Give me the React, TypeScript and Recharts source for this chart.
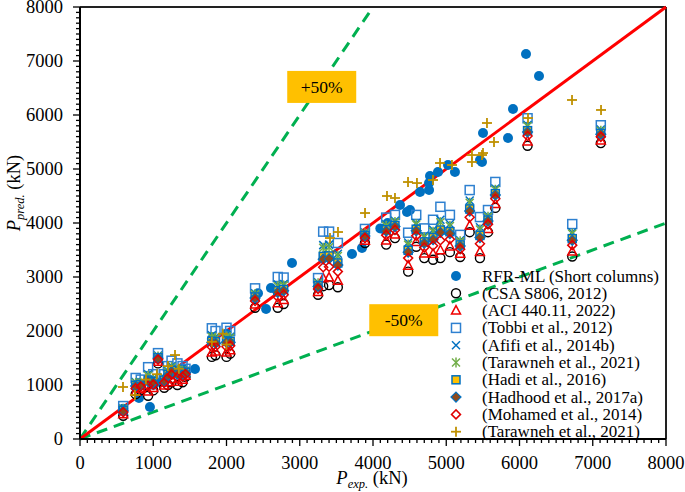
import { ScatterChart, Scatter, XAxis, YAxis, ReferenceLine, ReferenceDot } from "recharts";

const FONT = "Liberation Serif, DejaVu Serif, serif";

const majorTicks = [0, 1000, 2000, 3000, 4000, 5000, 6000, 7000, 8000];
const minorTicks = Array.from({ length: 81 }, (_, i) => i * 100);

// experimental loads of the specimens shown as stacks (kN)
const expLoads = [590, 760, 830, 930, 1000, 1065, 1150, 1200, 1250, 1330, 1400, 1440, 1800, 1850, 2000, 2050, 2390, 2700, 2780, 3250, 3320, 3400, 3520, 3890, 4180, 4300, 4480, 4590, 4700, 4820, 4920, 5050, 5190, 5320, 5460, 5570, 5670, 6110, 6720, 7110];
const csaPred = [430, 830, 900, 800, 900, 1400, 950, 1000, 1050, 1000, 1050, 1150, 1520, 1550, 1520, 1580, 2430, 2430, 2500, 2670, 2830, 2850, 2810, 3630, 3600, 3720, 3100, 3560, 3350, 3320, 3350, 3460, 3370, 3830, 3350, 3830, 4280, 5430, 3380, 5480];
const aciPred = [460, 875, 930, 880, 945, 1430, 990, 1050, 1110, 1060, 1095, 1170, 1600, 1620, 1600, 1645, 2490, 2515, 2575, 2720, 2975, 2990, 2930, 3670, 3675, 3785, 3210, 3650, 3435, 3430, 3495, 3565, 3430, 3950, 3465, 3890, 4350, 5510, 3470, 5530];
const tobbiPred = [610, 1130, 1100, 1330, 1200, 1590, 1200, 1350, 1450, 1400, 1350, 1300, 2050, 2000, 2060, 2000, 2790, 3000, 2990, 2980, 3840, 3840, 3630, 3890, 4100, 4150, 3820, 4150, 3900, 4060, 4300, 4150, 3780, 4610, 4110, 4240, 4760, 5940, 3980, 5810];
const afifiPred = [565, 1055, 1050, 1200, 1125, 1545, 1140, 1265, 1350, 1300, 1275, 1265, 1920, 1890, 1925, 1895, 2700, 2860, 2870, 2900, 3590, 3600, 3430, 3825, 3975, 4040, 3640, 4000, 3765, 3875, 4060, 3980, 3680, 4415, 3920, 4140, 4640, 5815, 3830, 5730];
const tarawnehAPred = [555, 1040, 1040, 1170, 1110, 1530, 1125, 1245, 1330, 1280, 1260, 1255, 1890, 1865, 1900, 1875, 2680, 2830, 2845, 2885, 3540, 3550, 3390, 3810, 3950, 4020, 3600, 3975, 3735, 3840, 4015, 3945, 3660, 4375, 3880, 4115, 4615, 5790, 3800, 5710];
const hadiPred = [530, 995, 1010, 1090, 1065, 1505, 1090, 1195, 1270, 1220, 1215, 1235, 1810, 1800, 1815, 1810, 2630, 2745, 2770, 2840, 3380, 3390, 3260, 3770, 3875, 3955, 3495, 3885, 3650, 3730, 3870, 3840, 3595, 4260, 3770, 4055, 4545, 5710, 3710, 5660];
const hadhoodPred = [520, 980, 1000, 1065, 1050, 1495, 1075, 1175, 1250, 1200, 1200, 1225, 1785, 1775, 1790, 1790, 2610, 2715, 2745, 2825, 3330, 3340, 3220, 3760, 3850, 3935, 3460, 3855, 3625, 3690, 3825, 3805, 3575, 4220, 3730, 4035, 4520, 5685, 3680, 5645];
const mohamedPred = [495, 935, 970, 985, 1005, 1470, 1040, 1125, 1190, 1140, 1155, 1200, 1705, 1710, 1710, 1725, 2555, 2630, 2670, 2780, 3180, 3190, 3100, 3720, 3775, 3870, 3350, 3765, 3545, 3580, 3680, 3700, 3515, 4105, 3615, 3975, 4450, 5610, 3590, 5595];

// RFR-ML predictions
const rfrExp = [590, 805, 955, 1000, 1100, 1250, 1400, 1570, 1800, 2000, 2430, 2540, 2607, 2894, 3350, 3713, 3850, 4100, 4200, 4369, 4464, 4505, 4642, 4765, 4765, 4778, 4887, 5024, 5119, 5461, 5488, 5502, 5843, 5911, 6089, 6266];
const rfrPred = [560, 760, 593, 1000, 1050, 1200, 1300, 1296, 1850, 1950, 2700, 2407, 2796, 3259, 3400, 3426, 3537, 3900, 4000, 4333, 4204, 4240, 4574, 4611, 4740, 4870, 4944, 5074, 4944, 5167, 5130, 5667, 5574, 6111, 7130, 6722];

// second Tarawneh et al. (2021) model
const tarBExp = [587, 750, 900, 1050, 1200, 1297, 1350, 1800, 1950, 2000, 3413, 3522, 3891, 4191, 4300, 4478, 4600, 4819, 4915, 5078, 5351, 5488, 5351, 5502, 5556, 5652, 6116, 6717, 7113];
const tarBPred = [963, 815, 1100, 1200, 1350, 1555, 1300, 1800, 1950, 1750, 3722, 3833, 4185, 4500, 4463, 4759, 4740, 4796, 5111, 5074, 5259, 5259, 5130, 5296, 5852, 5500, 5944, 6278, 6093];

const zip = (xs: number[], ys: number[]) => xs.map((x, i) => ({ x, y: ys[i] }));

const series = [
  { name: "RFR-ML (Short columns)", kind: "dot", data: zip(rfrExp, rfrPred) },
  { name: "(CSA S806, 2012)", kind: "circle", data: zip(expLoads, csaPred) },
  { name: "(ACI 440.11, 2022)", kind: "triangle", data: zip(expLoads, aciPred) },
  { name: "(Tobbi et al., 2012)", kind: "square", data: zip(expLoads, tobbiPred) },
  { name: "(Afifi et al., 2014b)", kind: "x", data: zip(expLoads, afifiPred) },
  { name: "(Tarawneh et al., 2021)", kind: "asterisk", data: zip(expLoads, tarawnehAPred) },
  { name: "(Hadi et al., 2016)", kind: "goldSquare", data: zip(expLoads, hadiPred) },
  { name: "(Hadhood et al., 2017a)", kind: "brownDiamond", data: zip(expLoads, hadhoodPred) },
  { name: "(Mohamed et al., 2014)", kind: "redDiamond", data: zip(expLoads, mohamedPred) },
  { name: "(Tarawneh et al., 2021)", kind: "plus", data: zip(tarBExp, tarBPred) },
];

function Marker({ kind, cx, cy }: { kind: string; cx: number; cy: number }) {
  switch (kind) {
    case "dot":
      return <circle cx={cx} cy={cy} r={5} fill="#0070C0" />;
    case "circle":
      return <circle cx={cx} cy={cy} r={4.5} fill="none" stroke="#000" strokeWidth={1.4} />;
    case "triangle":
      return (
        <polygon
          points={`${cx},${cy - 5} ${cx + 4.5},${cy + 3.5} ${cx - 4.5},${cy + 3.5}`}
          fill="none"
          stroke="#F00000"
          strokeWidth={1.5}
        />
      );
    case "square":
      return <rect x={cx - 4.5} y={cy - 4.5} width={9} height={9} fill="none" stroke="#2E80D0" strokeWidth={1.5} />;
    case "x":
      return (
        <g stroke="#0070C0" strokeWidth={1.5}>
          <line x1={cx - 4} y1={cy - 4} x2={cx + 4} y2={cy + 4} />
          <line x1={cx - 4} y1={cy + 4} x2={cx + 4} y2={cy - 4} />
        </g>
      );
    case "asterisk":
      return (
        <g stroke="#70AD47" strokeWidth={1.5}>
          <line x1={cx - 4} y1={cy - 4} x2={cx + 4} y2={cy + 4} />
          <line x1={cx - 4} y1={cy + 4} x2={cx + 4} y2={cy - 4} />
          <line x1={cx} y1={cy - 5} x2={cx} y2={cy + 5} />
        </g>
      );
    case "goldSquare":
      return <rect x={cx - 4} y={cy - 4} width={8} height={8} fill="#FFC000" stroke="#0070C0" strokeWidth={1.5} />;
    case "brownDiamond":
      return (
        <polygon
          points={`${cx},${cy - 5} ${cx + 5},${cy} ${cx},${cy + 5} ${cx - 5},${cy}`}
          fill="#8E4A1C"
          stroke="#0070C0"
          strokeWidth={1.2}
        />
      );
    case "redDiamond":
      return (
        <polygon
          points={`${cx},${cy - 4.5} ${cx + 4.5},${cy} ${cx},${cy + 4.5} ${cx - 4.5},${cy}`}
          fill="none"
          stroke="#E00000"
          strokeWidth={1.5}
        />
      );
    default:
      return (
        <g stroke="#BF9000" strokeWidth={1.8}>
          <line x1={cx - 5} y1={cy} x2={cx + 5} y2={cy} />
          <line x1={cx} y1={cy - 5} x2={cx} y2={cy + 5} />
        </g>
      );
  }
}

const textStyle = { fontFamily: FONT };

const XTick = ({ x, y, payload }: any) => {
  const major = majorTicks.includes(payload.value);
  return (
    <g>
      <line x1={x} x2={x} y1={y} y2={y + (major ? 7 : 4)} stroke="#000" strokeWidth={1.3} />
      {major && (
        <text x={x} y={y + 30} textAnchor="middle" fontSize={18.5} style={textStyle} fill="#000">
          {payload.value}
        </text>
      )}
    </g>
  );
};

const YTick = ({ x, y, payload }: any) => {
  const major = majorTicks.includes(payload.value);
  return (
    <g>
      <line x1={x - (major ? 7 : 4)} x2={x} y1={y} y2={y} stroke="#000" strokeWidth={1.3} />
      {major && (
        <text x={x - 17} y={y + 6} textAnchor="end" fontSize={18.5} style={textStyle} fill="#000">
          {payload.value}
        </text>
      )}
    </g>
  );
};

const BandLabel = (text: string) => (props: any) => (
  <g>
    <rect x={props.cx - 34.5} y={props.cy - 16} width={69} height={32} fill="#FFC000" />
    <text x={props.cx} y={props.cy + 6} textAnchor="middle" fontSize={17.5} style={textStyle} fill="#000">
      {text}
    </text>
  </g>
);

export default function App() {
  return (
    <div style={{ position: "absolute", left: 0, top: 0, width: 685, height: 492, background: "#fff" }}>
      <ScatterChart width={685} height={492} margin={{ top: 7, right: 19, bottom: 0, left: 0 }}>
        <XAxis
          type="number"
          dataKey="x"
          domain={[0, 8000]}
          ticks={minorTicks}
          interval={0}
          height={53}
          tick={<XTick />}
          tickSize={0}
          tickMargin={0}
          tickLine={false}
          axisLine={{ stroke: "#000", strokeWidth: 2 }}
        />
        <YAxis
          type="number"
          dataKey="y"
          domain={[0, 8000]}
          ticks={minorTicks}
          interval={0}
          width={80}
          tick={<YTick />}
          tickSize={0}
          tickMargin={0}
          tickLine={false}
          axisLine={{ stroke: "#000", strokeWidth: 2 }}
        />
        <ReferenceLine y={8000} stroke="#222" strokeWidth={2} />
        <ReferenceLine x={8000} stroke="#222" strokeWidth={2} />
        <ReferenceLine segment={[{ x: 0, y: 0 }, { x: 4000, y: 8000 }]} stroke="#00B050" strokeWidth={3} strokeDasharray="11 7" />
        <ReferenceLine segment={[{ x: 0, y: 0 }, { x: 8000, y: 4000 }]} stroke="#00B050" strokeWidth={3} strokeDasharray="11 7" />
        <ReferenceLine segment={[{ x: 0, y: 0 }, { x: 8000, y: 8000 }]} stroke="#FF0000" strokeWidth={3} />
        {series.map((s, i) => (
          <Scatter
            key={i}
            name={s.name}
            data={s.data}
            isAnimationActive={false}
            shape={(p: any) => <Marker kind={s.kind} cx={p.cx} cy={p.cy} />}
          />
        ))}
        <ReferenceDot x={3300} y={6520} shape={BandLabel("+50%")} />
        <ReferenceDot x={4420} y={2200} shape={BandLabel("-50%")} />
      </ScatterChart>
      <svg width={685} height={492} style={{ position: "absolute", left: 0, top: 0, pointerEvents: "none" }}>
        {series.map((s, i) => (
          <g key={i}>
            <Marker kind={s.kind} cx={456} cy={276 + i * 17.3} />
            <text x={482} y={276 + i * 17.3 + 5.5} fontSize={17} style={textStyle} fill="#000">
              {s.name}
            </text>
          </g>
        ))}
        <text transform="translate(20,193) rotate(-90)" textAnchor="middle" fontSize={18.5} style={textStyle} fill="#000">
          <tspan fontStyle="italic">P</tspan>
          <tspan fontStyle="italic" fontSize={12.5} dy={4}>pred.</tspan>
          <tspan dy={-4}> (kN)</tspan>
        </text>
        <text x={372} y={484} textAnchor="middle" fontSize={18.5} style={textStyle} fill="#000">
          <tspan fontStyle="italic">P</tspan>
          <tspan fontStyle="italic" fontSize={12.5} dy={4}>exp.</tspan>
          <tspan dy={-4}> (kN)</tspan>
        </text>
      </svg>
    </div>
  );
}
